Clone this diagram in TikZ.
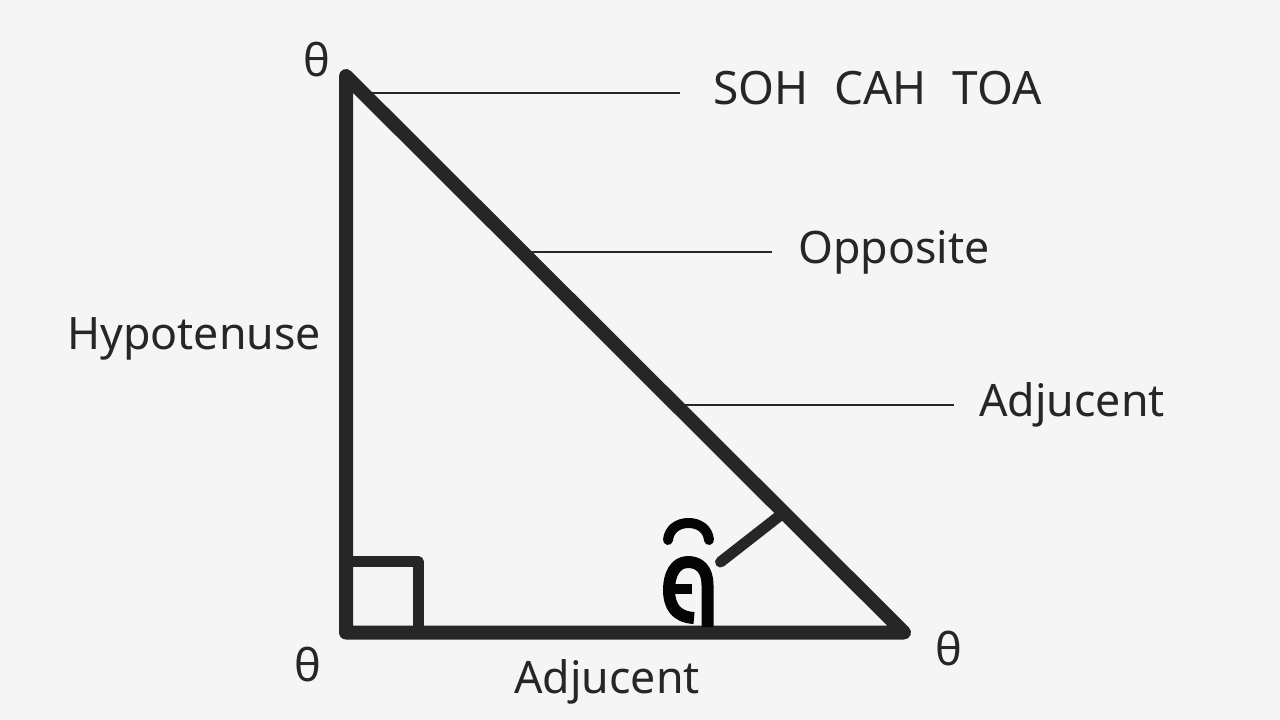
\documentclass[tikz,border=0pt]{standalone}
\usepackage{fontspec}
\setmainfont{Noto Sans}
\definecolor{bgc}{HTML}{F5F5F5}
\definecolor{ink}{HTML}{262626}
\tikzset{
  lbl/.style={inner sep=0pt,anchor=base west,text=ink,font=\fontsize{44.7}{50}\selectfont},
  thetalbl/.style={inner sep=0pt,text=ink,font=\fontsize{45}{50}\selectfont},
  side/.style={draw=ink,line width=14pt,line join=round,line cap=round},
  leader/.style={draw=ink,line width=2pt},
  sq/.style={draw=ink,line width=11pt,line join=round},
  glyph/.style={draw=black!90!ink,line width=12pt,line join=round}
}
\begin{document}
\begin{tikzpicture}[x=1pt,y=-1pt]
\useasboundingbox (0,0) rectangle (1280,720);
\fill[bgc] (0,0) rectangle (1280,720);
% triangle
\coordinate (A) at (346,76);
\coordinate (B) at (346,632.5);
\coordinate (C) at (904,632.5);
\draw[sq] (350,561.5) -- (418,561.5) -- (418,630);
\draw[side] (A) -- (B) -- (C) -- cycle;
% leaders
\coordinate (l1) at (370,92.5);
\coordinate (l2) at (532,252);
\coordinate (l3) at (684,404.5);
\node[lbl,font=\fontsize{46}{50}\selectfont] (soh) at (713,104) {SOH\hspace{0.56em}CAH\hspace{0.56em}TOA};
\node[lbl] (opp) at (798,263) {Opposite};
\node[lbl] (adjr) at (979,416) {Adjucent};
\node[lbl] (hyp) at (67,349) {Hypotenuse};
\node[lbl] (adjb) at (514,693) {Adjucent};
\coordinate (e1) at (680,92.5);
\coordinate (e2) at (772,252);
\coordinate (e3) at (954,404.5);
\draw[leader] (l1) -- (e1);
\draw[leader] (l2) -- (e2);
\draw[leader] (l3) -- (e3);
% thetas
\node[thetalbl] (t1) at (317,60) {\textbf{θ}};
\node[thetalbl] (t2) at (308,665) {\textbf{θ}};
\node[thetalbl] (t3) at (949,649) {\textbf{θ}};
% angle mark
\coordinate (m1) at (780,515.5);
\coordinate (m2) at (720.5,562);
\draw[draw=ink,line width=11pt,line cap=round] (m2) -- (m1);
\draw[glyph,line width=10pt,line cap=round] (668,540) .. controls (669,529) and (678,523) .. (688.5,523) .. controls (699,523) and (708,529) .. (709,540);
\draw[glyph,line cap=butt] (707.5,627) -- (707.5,585) .. controls (707.5,570) and (700,562) .. (688,562) .. controls (675,562) and (669,575) .. (669,590) .. controls (669,606) and (676,617) .. (694,618);
\draw[glyph,line cap=butt,line width=10pt] (674,589) -- (692,589);
\end{tikzpicture}
\end{document}
